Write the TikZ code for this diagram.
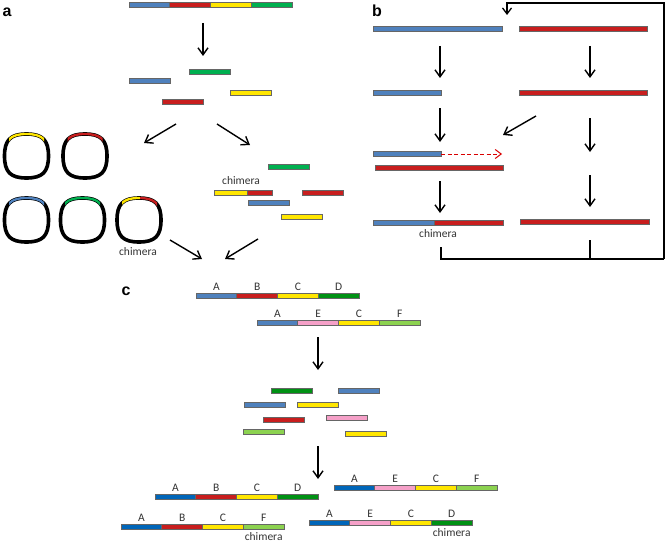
\documentclass[tikz,border=0pt]{standalone}
\usepackage{fontspec}
\setmainfont{Carlito}
\newfontfamily\panelfont{Liberation Sans}
\usetikzlibrary{arrows.meta, positioning}

\definecolor{segblue}{RGB}{79,129,189}
\definecolor{segdblue}{RGB}{0,102,185}
\definecolor{segred}{RGB}{200,30,30}
\definecolor{segyellow}{RGB}{255,230,0}
\definecolor{seggreen}{RGB}{0,176,80}
\definecolor{segdgreen}{RGB}{0,145,20}
\definecolor{seglgreen}{RGB}{140,210,80}
\definecolor{segpink}{RGB}{245,160,200}

% rounded vector outline around centre (#1,#2)
\newcommand{\loopshape}[2]{(#1,#2-22) .. controls (#1+16,#2-22) and (#1+22,#2-16) .. (#1+22,#2)
  .. controls (#1+22,#2+16) and (#1+16,#2+22) .. (#1,#2+22)
  .. controls (#1-16,#2+22) and (#1-22,#2+16) .. (#1-22,#2)
  .. controls (#1-22,#2-16) and (#1-16,#2-22) .. cycle}
% coloured insert on top of a vector: centre, from, to, colour
\newcommand{\insertarc}[5]{\begin{scope}
  \clip (#1+#3,#2-32) rectangle (#1+#4,#2-14);
  \draw[line width=2.3pt, draw=#5] \loopshape{#1}{#2};
\end{scope}}

\begin{document}
\begin{tikzpicture}[
  x=1pt, y=-1pt,
  every node/.style={font=\fontsize{11.5}{13}\selectfont},
  seg/.style={draw=black!60, line width=0.6pt, minimum width=40.75pt, minimum height=5pt,
    inner sep=0pt, outer sep=0pt},
  lab/.style={text=black!80, inner sep=2.8pt},
  panel/.style={font=\panelfont\bfseries\fontsize{16}{18}\selectfont},
  arr/.style={-{Straight Barb[length=7pt, width=10pt]}, line width=1.4pt},
  loopline/.style={line width=3.6pt, line join=round},
  feed/.style={line width=1.3pt}
]
\useasboundingbox (0,0) rectangle (672,543);

% Panel labels
\node[panel] (pa) at (7,12) {a};
\node[panel] (pb) at (377,11) {b};
\node[panel] (pc) at (126,291) {c};

% Panel a: source DNA
\node[seg, fill=segblue] (ta1) at (149.4,5) {};
\node[seg, fill=segred, right=0pt of ta1] (ta2) {};
\node[seg, fill=segyellow, right=0pt of ta2] (ta3) {};
\node[seg, fill=seggreen, right=0pt of ta3] (ta4) {};

% Panel a: fragments
\node[seg, fill=seggreen] (fa1) at (210,72) {};
\node[seg, fill=segblue] (fa2) at (149.5,81) {};
\node[seg, fill=segyellow] (fa3) at (251,93) {};
\node[seg, fill=segred] (fa4) at (183,102) {};

% Panel a: vectors
\foreach \cx/\cy/\col in {26.5/156/segyellow, 85/156/segred, 26.5/220/segblue, 82.5/220/seggreen}{
  \draw[loopline] \loopshape{\cx}{\cy};
  \insertarc{\cx}{\cy}{-17.5}{17.5}{\col}
}
\draw[loopline] \loopshape{139}{220};
\insertarc{139}{220}{-17}{1}{segyellow}
\insertarc{139}{220}{1}{18}{segred}
\node[lab] (cva) at (138,252) {chimera};

% Panel a: fragment mix
\node[seg, fill=seggreen] (fb1) at (288.5,167) {};
\node[lab] (cvb) at (241,181) {chimera};
\node[seg, fill=segyellow, minimum width=33pt] (fb2) at (230.5,193) {};
\node[seg, fill=segred, minimum width=25pt, right=0pt of fb2] (fb3) {};
\node[seg, fill=segred] (fb4) at (322.5,193) {};
\node[seg, fill=segblue] (fb5) at (268.5,203) {};
\node[seg, fill=segyellow] (fb6) at (302,217) {};

% Panel a: arrows
\coordinate (a1s) at (203,23);  \coordinate (a1e) at (203,56);
\coordinate (a2s) at (176,124); \coordinate (a2e) at (144,143);
\coordinate (a3s) at (217,124); \coordinate (a3e) at (250,145);
\coordinate (a4s) at (170,240); \coordinate (a4e) at (202,259);
\coordinate (a5s) at (258,239); \coordinate (a5e) at (225,259);
\draw[arr] (a1s) -- (a1e);
\draw[arr] (a2s) -- (a2e);
\draw[arr] (a3s) -- (a3e);
\draw[arr] (a4s) -- (a4e);
\draw[arr] (a5s) -- (a5e);

% Panel b: strands
\node[seg, fill=segblue, minimum width=129pt] (b1) at (437.5,29) {};
\node[seg, fill=segred, minimum width=128pt] (r1) at (583,29) {};
\node[seg, fill=segblue, minimum width=68pt] (b2) at (407,93) {};
\node[seg, fill=segred, minimum width=128pt] (r2) at (583,93) {};
\node[seg, fill=segblue, minimum width=68pt] (b3) at (407,154) {};
\node[seg, fill=segred, minimum width=128pt] (r3) at (439,168) {};
\node[seg, fill=segblue, minimum width=61pt] (b4) at (403.5,223) {};
\node[seg, fill=segred, minimum width=69pt, right=0pt of b4] (b4r) {};
\node[lab] (cvc) at (438,234) {chimera};
\node[seg, fill=segred, minimum width=129pt] (r4) at (584.5,222) {};

% Panel b: arrows
\coordinate (b1s) at (440,46);  \coordinate (b1e) at (440,78);
\coordinate (b2s) at (590,46);  \coordinate (b2e) at (590,78);
\coordinate (b3s) at (440,108); \coordinate (b3e) at (440,142);
\coordinate (b4s) at (536,116); \coordinate (b4e) at (503,135);
\coordinate (b5s) at (590,118); \coordinate (b5e) at (590,152);
\coordinate (b6s) at (590,175); \coordinate (b6e) at (590,207);
\coordinate (b7s) at (440,181); \coordinate (b7e) at (440,213);
\draw[arr] (b1s) -- (b1e);
\draw[arr] (b2s) -- (b2e);
\draw[arr] (b3s) -- (b3e);
\draw[arr] (b4s) -- (b4e);
\draw[arr] (b5s) -- (b5e);
\draw[arr] (b6s) -- (b6e);
\draw[arr] (b7s) -- (b7e);
\coordinate (ext) at (502,154);
\draw[-{Straight Barb[length=6pt, width=9pt]}, draw=red!85!black, line width=1pt, dash pattern=on 4pt off 2.5pt]
  (b3.east) -- (ext);

% Panel b: feedback loop
\coordinate (fl1) at (441,247);
\coordinate (fl2) at (590,240);
\coordinate (fl3) at (664,259);
\coordinate (fl4) at (507,3);
\coordinate (fl5) at (507,15);
\draw[feed] (fl1) |- (fl3);
\draw[feed] (fl2) -- (fl2 |- fl3);
\draw[feed, -{Straight Barb[length=6pt, width=9pt]}] (fl3) |- (fl4) -- (fl5);

% Panel c: two genomes
\node[seg, fill=segblue, label={[lab]above:A}] (c1a) at (216.4,296) {};
\node[seg, fill=segred, right=0pt of c1a, label={[lab]above:B}] (c1b) {};
\node[seg, fill=segyellow, right=0pt of c1b, label={[lab]above:C}] (c1c) {};
\node[seg, fill=segdgreen, right=0pt of c1c, label={[lab]above:D}] (c1d) {};

\node[seg, fill=segblue, label={[lab]above:A}] (c2a) at (277.4,323) {};
\node[seg, fill=segpink, right=0pt of c2a, label={[lab]above:E}] (c2e) {};
\node[seg, fill=segyellow, right=0pt of c2e, label={[lab]above:C}] (c2c) {};
\node[seg, fill=seglgreen, right=0pt of c2c, label={[lab]above:F}] (c2f) {};

% Panel c: fragments
\node[seg, fill=segdgreen] (fc1) at (291.5,391) {};
\node[seg, fill=segblue] (fc2) at (358.5,391) {};
\node[seg, fill=segblue] (fc3) at (264.5,405) {};
\node[seg, fill=segyellow] (fc4) at (318,405) {};
\node[seg, fill=segred] (fc5) at (284,420) {};
\node[seg, fill=segpink] (fc6) at (346.5,418) {};
\node[seg, fill=seglgreen] (fc7) at (263.5,432) {};
\node[seg, fill=segyellow] (fc8) at (366,434) {};

% Panel c: arrows
\coordinate (c1s) at (318,337); \coordinate (c1e) at (318,370);
\coordinate (c2s) at (318,446); \coordinate (c2e) at (318,479);
\draw[arr] (c1s) -- (c1e);
\draw[arr] (c2s) -- (c2e);

% Panel c: products
\node[seg, fill=segdblue, label={[lab]above:A}] (p1a) at (175.4,497) {};
\node[seg, fill=segred, right=0pt of p1a, label={[lab]above:B}] (p1b) {};
\node[seg, fill=segyellow, right=0pt of p1b, label={[lab]above:C}] (p1c) {};
\node[seg, fill=segdgreen, right=0pt of p1c, label={[lab]above:D}] (p1d) {};

\node[seg, fill=segdblue, label={[lab]above:A}] (p2a) at (354.4,488) {};
\node[seg, fill=segpink, right=0pt of p2a, label={[lab]above:E}] (p2e) {};
\node[seg, fill=segyellow, right=0pt of p2e, label={[lab]above:C}] (p2c) {};
\node[seg, fill=seglgreen, right=0pt of p2c, label={[lab]above:F}] (p2f) {};

\node[seg, fill=segdblue, label={[lab]above:A}] (p3a) at (141.4,527) {};
\node[seg, fill=segred, right=0pt of p3a, label={[lab]above:B}] (p3b) {};
\node[seg, fill=segyellow, right=0pt of p3b, label={[lab]above:C}] (p3c) {};
\node[seg, fill=seglgreen, right=0pt of p3c, label={[lab]above:F}, label={[lab]below:chimera}] (p3f) {};

\node[seg, fill=segdblue, label={[lab]above:A}] (p4a) at (329.4,523) {};
\node[seg, fill=segpink, right=0pt of p4a, label={[lab]above:E}] (p4e) {};
\node[seg, fill=segyellow, right=0pt of p4e, label={[lab]above:C}] (p4c) {};
\node[seg, fill=segdgreen, right=0pt of p4c, label={[lab]above:D}, label={[lab]below:chimera}] (p4d) {};

\end{tikzpicture}
\end{document}
